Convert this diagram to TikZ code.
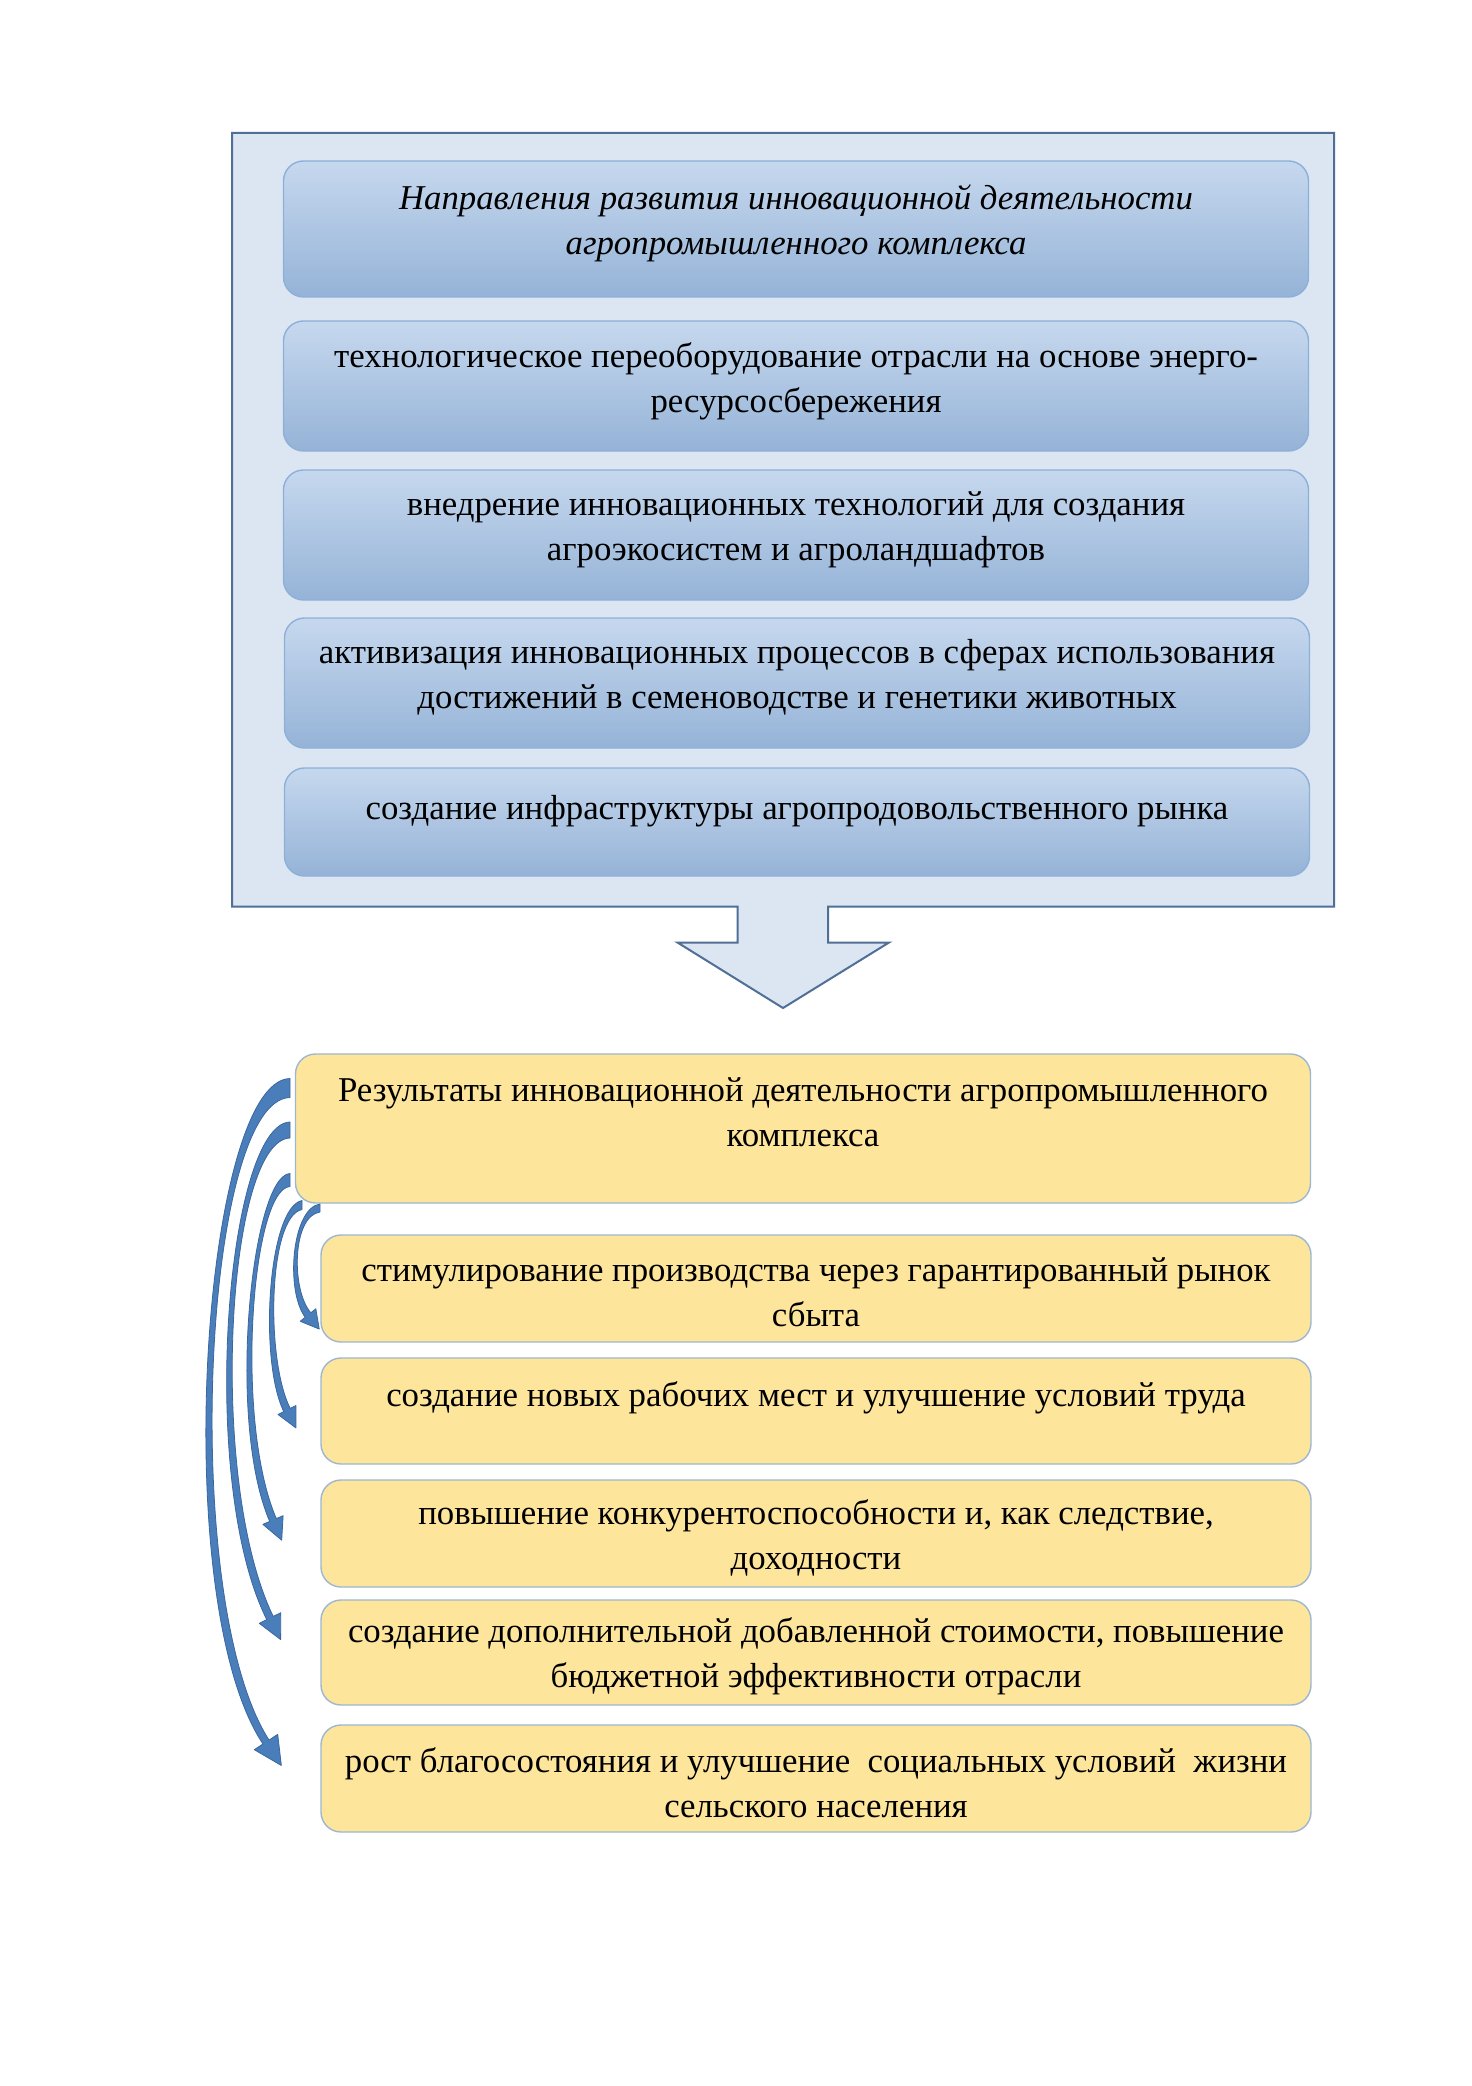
\documentclass[tikz,border=0pt]{standalone}
\usepackage{fontspec}
\setmainfont{Liberation Serif}
\usetikzlibrary{calc}
\definecolor{outerfill}{HTML}{DCE6F2}
\definecolor{outerline}{HTML}{4F6F96}
\definecolor{bluetop}{HTML}{C6D8EE}
\definecolor{bluebot}{HTML}{95B3D7}
\definecolor{blueline}{HTML}{8DB0D9}
\definecolor{yelfill}{HTML}{FDE69C}
\definecolor{yelline}{HTML}{9DB7D0}
\definecolor{arrowblue}{HTML}{4A7EBB}
\definecolor{arrowdark}{HTML}{3A679C}
% tapered curved arrow: name, start, c1, c2, neck, start half width, mid half width, head half width, head length
\newcommand\tarrow[9]{%
  \coordinate (#1s) at #2; \coordinate (#1c1) at #3; \coordinate (#1c2) at #4; \coordinate (#1n) at #5;
  \filldraw[fill=arrowblue, draw=arrowdark, line width=0.4pt, line join=round]
    ($(#1s)+(0,-#6)$) .. controls ($(#1c1)+(0,-#6)$) and ($(#1c2)+(-#7,0)$) .. ($(#1n)!1.8pt!90:(#1c2)$)
    -- ($(#1n)!#8!90:(#1c2)$) -- ($(#1n)!#9!180:(#1c2)$) -- ($(#1n)!#8!-90:(#1c2)$)
    -- ($(#1n)!1.8pt!-90:(#1c2)$) .. controls ($(#1c2)+(#7,0)$) and ($(#1c1)+(0,#6)$) .. ($(#1s)+(0,#6)$) -- cycle;}
\begin{document}
\begin{tikzpicture}[x=0.5pt,y=-0.5pt,
  bluebox/.style={rectangle, rounded corners=10pt, draw=blueline, line width=0.7pt, top color=bluetop, bottom color=bluebot, inner sep=0pt},
  yelbox/.style={rectangle, rounded corners=10pt, draw=yelline, line width=0.7pt, fill=yelfill, inner sep=0pt},
  txt/.style={align=center, font=\fontsize{17.4}{22.5}\selectfont, text=black, inner sep=0pt}]
\useasboundingbox[fill=white] (0,0) rectangle (1471,2086);
% outer frame with down arrow
\filldraw[fill=outerfill, draw=outerline, line width=1pt, line join=miter]
  (828,906.5) -- (1334,906.5) -- (1334,133) -- (232,133) -- (232,906.5) -- (737.5,906.5)
  -- (737.5,942.5) -- (677.5,942.5) -- (783,1008) -- (889,942.5) -- (828,942.5) -- cycle;
% blue boxes
\node[bluebox, minimum width=512.5pt, minimum height=68pt] (b1) at (796,229) {};
\node[bluebox, minimum width=512.5pt, minimum height=65pt] (b2) at (796,386) {};
\node[bluebox, minimum width=512.5pt, minimum height=65pt] (b3) at (796,535) {};
\node[bluebox, minimum width=512.5pt, minimum height=65pt] (b4) at (797,683) {};
\node[bluebox, minimum width=512.5pt, minimum height=54pt] (b5) at (797,822) {};
\node[txt] (t1) at ($(b1.center)+(0,-6)$) {\itshape Направления развития инновационной деятельности\\\itshape агропромышленного комплекса};
\node[txt] (t2) at ($(b2.center)+(0,-5)$) {технологическое переоборудование отрасли на основе энерго-\\ресурсосбережения};
\node[txt] (t3) at ($(b3.center)+(0,-5)$) {внедрение инновационных технологий для создания\\агроэкосистем и агроландшафтов};
\node[txt] (t4) at ($(b4.center)+(0,-6)$) {активизация инновационных процессов в сферах использования\\достижений в семеноводстве и генетики животных};
\node[txt] (t5) at ($(b5.center)+(0,-11)$) {создание инфраструктуры агропродовольственного рынка};
% yellow boxes
\node[yelbox, minimum width=507.5pt, minimum height=74.5pt] (res) at (803,1128.5) {};
\node[yelbox, minimum width=495pt, minimum height=53.5pt] (ya) at (816,1288.5) {};
\node[yelbox, minimum width=495pt, minimum height=53pt] (yb) at (816,1411) {};
\node[yelbox, minimum width=495pt, minimum height=53.5pt] (yc) at (816,1533.5) {};
\node[yelbox, minimum width=495pt, minimum height=52.5pt] (yd) at (816,1652.5) {};
\node[yelbox, minimum width=495pt, minimum height=53.5pt] (ye) at (816,1778.5) {};
\node[txt] (tr) at ($(res.center)+(0,-16)$) {Результаты инновационной деятельности агропромышленного\\комплекса};
\node[txt] (ta) at ($(ya.center)+(0,4)$) {стимулирование производства через гарантированный рынок\\сбыта};
\node[txt] (tb) at ($(yb.center)+(0,-13)$) {создание новых рабочих мест и улучшение условий труда};
\node[txt] (tc) at ($(yc.center)+(0,4)$) {повышение конкурентоспособности и, как следствие,\\доходности};
\node[txt] (td) at ($(yd.center)+(0,4)$) {создание дополнительной добавленной стоимости, повышение\\бюджетной эффективности отрасли};
\node[txt] (te) at ($(ye.center)+(0,4)$) {рост благосостояния и улучшение\ \ социальных условий\ \ жизни\\сельского населения};
% curved arrows from results box
\tarrow{ae}{(290,1088)}{(203,1090)}{(173,1600)}{(266,1742)}{9.5}{6}{7pt}{14pt}
\tarrow{ad}{(290,1130)}{(227,1132)}{(202,1480)}{(270,1618)}{8}{5}{6pt}{12pt}
\tarrow{ac}{(290,1180)}{(252,1182)}{(230,1420)}{(273,1520)}{6.5}{4}{5.5pt}{11pt}
\tarrow{ab}{(302,1205)}{(268,1212)}{(262,1360)}{(287,1410)}{4.5}{3.5}{5pt}{10pt}
\tarrow{aa}{(320,1208)}{(292,1212)}{(288,1290)}{(308,1315)}{4}{3}{5pt}{9pt}
\end{tikzpicture}
\end{document}
